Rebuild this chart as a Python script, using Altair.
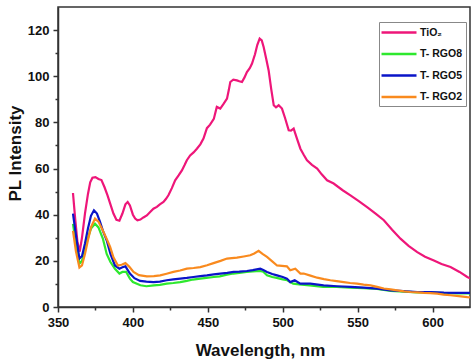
import altair as alt
import pandas as pd

# ---- data ----
tio2_wl = [360, 361.5, 363, 364.5, 366, 368, 370, 371.5, 373, 375, 377, 379, 381, 383, 385, 387, 389, 391,
           393, 395, 396.5, 398, 400, 401.5, 403, 405, 407, 409.3, 411.5, 413.7, 416, 418, 420.4, 422, 423.7,
           426, 428.2, 430.5, 432.7, 434.5, 436, 438.2, 440.5, 442.7, 445, 447.1, 449.4, 451.5, 454, 456,
           458.3, 460.5, 462.8, 464, 465, 467, 469.4, 471, 472.8, 474.5, 476.1, 478, 479.5, 481.5, 483,
           484.6, 486, 487.3, 489, 490.6, 492.3, 494, 495.5, 497.3, 499.5, 501.5, 504, 505.5, 507.3, 509.5,
           511.8, 514, 516.2, 519.5, 523, 526, 529.6, 534, 540, 545.2, 551, 556.3, 562, 567.5, 573, 578.6,
           584, 589.8, 595, 600.9, 606, 612, 618, 623.2, 625]
tio2_val = [49.4, 38, 28, 24, 30, 40.5, 49, 54, 56, 56.3, 55.5, 55, 52, 48.5, 44.5, 40.5, 37.8, 37.4,
            40.5, 44.5, 45.5, 44, 40, 38.3, 37.6, 37.9, 38.8, 39.7, 41.2, 42.6, 43.4, 44.5, 45.5, 46.8, 48.4,
            51.5, 54.9, 57, 59.2, 61.5, 63.6, 65.7, 67, 68.6, 70.5, 73, 77.5, 79, 81.5, 86.7,
            86, 88, 90.3, 94, 97.5, 98.5, 98.2, 97.8, 97.5, 99.5, 101.8, 103.5, 105.5, 109.5, 113.5,
            116.3, 115.5, 112.6, 107.5, 102.5, 94.5, 87.4, 86.5, 87.4, 86, 82, 76.6, 76.4, 77.3, 73,
            68.6, 66, 63.6, 61.6, 60, 57.5, 54.9, 53.5, 50.6, 48.4, 45.8, 43.3, 40.5, 37.6, 33.5, 29.6,
            26.5, 23.8, 21.8, 20.2, 18.6, 17.3, 15.2, 13, 12.4]

rgo8_wl = [360, 362, 364.3, 366, 368, 370, 372, 374.7, 377, 380, 382.5, 385, 388, 391, 393, 395.5, 398,
           400, 405, 409, 414, 418, 422.6, 427, 431.6, 436, 440, 445, 449, 454, 458, 462, 467, 471, 476,
           480, 485, 487, 489.5, 493, 496, 500, 503, 505, 507, 511, 518, 527, 536, 545, 554, 563, 572,
           580.8, 589.8, 598.7, 607.6, 616.5, 625]
rgo8_val = [36, 27, 18.8, 20, 25, 30, 34, 36.1, 34.5, 29.5, 23, 19.5, 16.6, 14.5, 15.2, 15.2, 12.3,
            10.8, 9.4, 9.0, 9.4, 9.6, 10.1, 10.4, 10.8, 11.3, 11.9, 12.3, 12.6, 13, 13.3, 13.9, 14.5, 14.8, 15.2,
            15.4, 15.6, 15.3, 13.7, 13, 12.6, 12, 11.6, 10.8, 10.1, 9.8, 9.4, 8.7, 8.7, 8.4, 8.2, 7.8, 7.0,
            6.7, 6.3, 6.3, 6.0, 5.9, 5.9]

rgo5_wl = [360, 362, 364.3, 366, 368, 370, 372, 374, 376, 378, 380, 382.5, 385, 388, 391, 393, 395, 398,
           401, 404.8, 409, 413.7, 418, 422.6, 427, 431.6, 436, 440.4, 445, 449.4, 454, 458.3, 463, 467.2,
           471, 476.1, 480, 485, 487, 489.5, 493, 496.2, 500, 502.8, 505, 508, 511.7, 518.4, 527.3, 536.3,
           545.2, 554, 563, 572, 580.8, 589.8, 598.7, 607.6, 616.5, 625]
rgo5_val = [40.5, 31, 21, 22, 27.5, 34, 39.5, 41.9, 40.5, 37, 33, 28.9, 23, 18, 16.6, 17.2, 17.6, 14.5,
            12.5, 11.3, 11.0, 10.8, 11.0, 11.6, 12, 12.3, 12.6, 13, 13.4, 13.7, 14.1, 14.5, 14.8, 15.2,
            15.3, 15.6, 16.0, 16.6, 16.0, 15.2, 14.3, 13.7, 13, 12.3, 10.8, 11.6, 10.1, 10.1, 9.4, 9,
            8.7, 8.4, 8, 7.2, 6.9, 6.5, 6.5, 6.2, 6.1, 6.1]

rgo2_wl = [360, 362, 364.3, 366, 368, 370, 372, 374.7, 377, 380, 382.5, 384.8, 387, 390, 392.5, 395, 397.5,
           400.4, 404, 409.3, 414, 418.2, 422.5, 427, 431.5, 436, 440.5, 445, 449.5, 453.8, 458.5, 462.8,
           466, 469.4, 474, 478.3, 481, 483.9, 486.5, 489.5, 493, 496.2, 499.5, 502.8, 505, 508.4, 511.8,
           514, 518.5, 523, 527.5, 531.8, 536, 540.7, 545, 549.6, 554, 558.6, 563, 567.5, 572, 576.4, 581,
           585.3, 590, 594.2, 598.5, 603.1, 607.5, 612, 617.5, 623.2, 625]
rgo2_val = [33, 24, 17.1, 18, 23, 29, 34.5, 38.3, 37, 33, 29.5, 26, 21.5, 18, 18.3, 19, 17.5,
            15.2, 13.8, 13.3, 13.4, 13.7, 14.4, 15.2, 15.8, 16.6, 16.9, 17.3, 18.1, 19, 20, 21,
            21.2, 21.4, 21.9, 22.4, 23.2, 24.3, 23, 21.7, 19.8, 18, 17.8, 17.6, 15.9, 16.6, 14.5,
            14.5, 13.6, 12.7, 12.1, 11.6, 11.2, 10.8, 10.4, 10.1, 9.7, 9.4, 8.7, 8, 7.6, 7.2, 6.8,
            6.5, 6.3, 6.1, 6.0, 5.8, 5.4, 5.1, 4.7, 4.3, 4.2]

series_names = ["TiO\u2082", "T- RGO8", "T- RGO5", "T- RGO2"]
series_colors = ["#EE1679", "#2EE82E", "#0A14C8", "#F98A1E"]

x_major = [350, 400, 450, 500, 550, 600]
x_minor = [375, 425, 475, 525, 575]
y_major = [0, 20, 40, 60, 80, 100, 120]
y_minor = [10, 30, 50, 70, 90, 110]

rows = []
for name, wls, vals in zip(series_names,
                           [tio2_wl, rgo8_wl, rgo5_wl, rgo2_wl],
                           [tio2_val, rgo8_val, rgo5_val, rgo2_val]):
    for w, v in zip(wls, vals):
        rows.append({"series": name, "wl": w, "pl": v})
df = pd.DataFrame(rows)

FONT = "Liberation Sans"
xscale = alt.Scale(domain=[350, 625], nice=False, zero=False)
yscale = alt.Scale(domain=[0, 130], nice=False, zero=True)

base = alt.Chart(df)

lines = base.mark_line(strokeWidth=2.2, clip=True).encode(
    x=alt.X("wl:Q", scale=xscale,
            axis=alt.Axis(values=x_major, orient="bottom", title="Wavelength, nm",
                          labelFlush=False,
                          titleX=202, titleY=48, titleBaseline="alphabetic")),
    y=alt.Y("pl:Q", scale=yscale,
            axis=alt.Axis(values=y_major, orient="left", title="PL Intensity",
                          labelFlush=False,
                          titleX=-38, titleY=146, titleBaseline="alphabetic", titleAlign="center")),
    color=alt.Color("series:N",
                    scale=alt.Scale(domain=series_names, range=series_colors),
                    legend=alt.Legend(title=None, orient="none", legendX=321, legendY=15,
                                      symbolType="M-1.33,0L4.5,0", symbolSize=144,
                                      symbolStrokeWidth=2.5, labelOffset=23,
                                      labelFont=FONT, labelFontWeight="bold", labelFontSize=10.5,
                                      labelColor="#111", padding=3, rowPadding=8.5,
                                      strokeColor="#888", fillColor="white")),
    detail="series:N",
)

minor = base.mark_point(opacity=0).encode(
    x=alt.X("wl:Q", scale=xscale,
            axis=alt.Axis(values=x_minor, orient="bottom", labels=False, domain=False,
                          tickSize=3, title=None)),
    y=alt.Y("pl:Q", scale=yscale,
            axis=alt.Axis(values=y_minor, orient="left", labels=False, domain=False,
                          tickSize=3, title=None)),
)

chart = alt.layer(lines, minor).resolve_axis(x="independent", y="independent").properties(
    width=412, height=300,
    autosize=alt.AutoSizeParams(type="none"),
    padding={"left": 58, "top": 7, "right": 4, "bottom": 55},
    background="white",
).configure_view(
    stroke="#333", strokeWidth=1.5
).configure_axis(
    grid=False,
    labelFont=FONT, labelFontWeight="bold", labelFontSize=13, labelColor="#111",
    labelPadding=4,
    titleFont=FONT, titleFontWeight="bold", titleFontSize=17, titleColor="#111",
    domainColor="#333", domainWidth=1.5,
    tickColor="#333", tickWidth=1.5, tickSize=5,
)

chart.save("out.html", embed_options={"renderer": "svg", "actions": False})
